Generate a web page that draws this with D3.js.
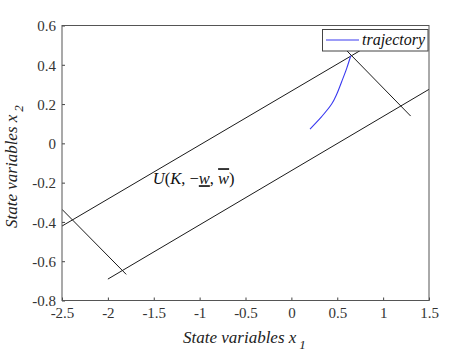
<!DOCTYPE html>
<html><head><meta charset="utf-8">
<script src="https://cdn.jsdelivr.net/npm/d3@7"></script>
<style>body{margin:0;background:#fff}svg{display:block}
.sf{font-family:"Liberation Serif","DejaVu Serif","Times New Roman",Tinos,serif}</style>
</head><body>
<svg id="c" width="474" height="355"></svg>
<script>
// ---- data ----
const xTicks = [-2.5, -2, -1.5, -1, -0.5, 0, 0.5, 1, 1.5];
const yTicks = [-0.8, -0.6, -0.4, -0.2, 0, 0.2, 0.4, 0.6];
const xDomain = [-2.5, 1.5];
const yDomain = [-0.8, 0.6];
// boundary segments of the set U (data coordinates)
const upperLine = [[-2.5, -0.421], [0.80, 0.486]];
const lowerLine = [[-2.0, -0.691], [1.5, 0.275]];
const leftEdge  = [[-2.5, -0.336], [-1.80, -0.667]];
const rightEdge = [[0.58, 0.483], [1.30, 0.139]];
const trajX = [0.203, 0.330, 0.439, 0.494, 0.548, 0.603, 0.647];
const trajY = [0.073, 0.136, 0.200, 0.250, 0.314, 0.382, 0.446];
const legendLabel = "trajectory";
const xLabel = "State variables x";
const yLabel = "State variables x";

// ---- layout ----
const W = 474, H = 355;
const m = {l: 62, r: 45, t: 25.5, b: 54.5};
const svg = d3.select("#c");
const x = d3.scaleLinear().domain(xDomain).range([m.l, W - m.r]);
const y = d3.scaleLinear().domain(yDomain).range([H - m.b, m.t]);

svg.append("defs").append("clipPath").attr("id", "clip")
  .append("rect").attr("x", x(xDomain[0])).attr("y", y(yDomain[1]))
  .attr("width", x(xDomain[1]) - x(xDomain[0])).attr("height", y(yDomain[0]) - y(yDomain[1]));

const line = d3.line().x(d => x(d[0])).y(d => y(d[1]));
const g = svg.append("g").attr("clip-path", "url(#clip)");
[upperLine, lowerLine, leftEdge, rightEdge].forEach(seg => {
  g.append("path").attr("d", line(seg)).attr("fill", "none")
   .attr("stroke", "#1a1a1a").attr("stroke-width", 1);
});
const traj = trajX.map((v, i) => [v, trajY[i]]);
g.append("path").attr("d", d3.line().x(d => x(d[0])).y(d => y(d[1])).curve(d3.curveCatmullRom)(traj))
  .attr("fill", "none").attr("stroke", "#3a3af0").attr("stroke-width", 1.1);

// label U(K, -w, w)
const lab = svg.append("text").attr("class", "sf").attr("x", x(-1.51)).attr("y", y(-0.208))
  .style("font-size", "16.5px").attr("fill", "#111");
lab.append("tspan").attr("font-style", "italic").text("U");
lab.append("tspan").text("(");
lab.append("tspan").attr("font-style", "italic").text("K");
lab.append("tspan").text(", −");
lab.append("tspan").attr("font-style", "italic").attr("text-decoration", "underline").text("w");
lab.append("tspan").text(", ");
lab.append("tspan").attr("font-style", "italic").attr("text-decoration", "overline").text("w");
lab.append("tspan").text(")");

// axes
const fmt = d => String(Math.round(d * 10) / 10);
const ax = svg.append("g").attr("transform", `translate(0,${y(yDomain[0])})`)
  .call(d3.axisBottom(x).tickValues(xTicks).tickFormat(fmt).tickSizeInner(-3).tickSizeOuter(0).tickPadding(7));
const ay = svg.append("g").attr("transform", `translate(${x(xDomain[0])},0)`)
  .call(d3.axisLeft(y).tickValues(yTicks).tickFormat(fmt).tickSizeInner(-3).tickSizeOuter(0).tickPadding(6));
[ax, ay].forEach(a => {
  a.attr("font-family", null).attr("font-size", null);
  a.select(".domain").remove();
  a.selectAll("line").attr("stroke", "#444");
  a.selectAll("text").attr("class", "sf").style("font-size", "15px").attr("fill", "#333");
});
ay.selectAll("text").attr("dy", "0.35em");

// box
svg.append("rect").attr("x", x(xDomain[0])).attr("y", y(yDomain[1]))
  .attr("width", x(xDomain[1]) - x(xDomain[0])).attr("height", y(yDomain[0]) - y(yDomain[1]))
  .attr("fill", "none").attr("stroke", "#555").attr("stroke-width", 1);

// legend
const lg = svg.append("g");
const lx0 = x(xDomain[1]) - 106.5, ly0 = y(yDomain[1]) + 4;
lg.append("rect").attr("x", lx0).attr("y", ly0).attr("width", 105.5).attr("height", 21.5)
  .attr("fill", "#fff").attr("stroke", "#444").attr("stroke-width", 1);
lg.append("line").attr("x1", lx0 + 3.5).attr("x2", lx0 + 36.5).attr("y1", ly0 + 10.5).attr("y2", ly0 + 10.5)
  .attr("stroke", "#3a3af0").attr("stroke-width", 1.1);
lg.append("text").attr("class", "sf").attr("x", lx0 + 39.5).attr("y", ly0 + 15.5)
  .attr("font-style", "italic").style("font-size", "16px").attr("fill", "#111").text(legendLabel);

// axis labels
const xl = svg.append("text").attr("class", "sf").attr("x", 183).attr("y", 343)
  .attr("font-style", "italic").style("font-size", "17px").attr("fill", "#222");
xl.append("tspan").text(xLabel);
xl.append("tspan").attr("dx", 3).attr("dy", 6).style("font-size", "13px").text("1");
const yl = svg.append("text").attr("class", "sf").attr("transform", "translate(17,228) rotate(-90)")
  .attr("font-style", "italic").style("font-size", "17px").attr("fill", "#222");
yl.append("tspan").text(yLabel);
yl.append("tspan").attr("dx", 3).attr("dy", 6).style("font-size", "13px").text("2");
</script>
</body></html>
